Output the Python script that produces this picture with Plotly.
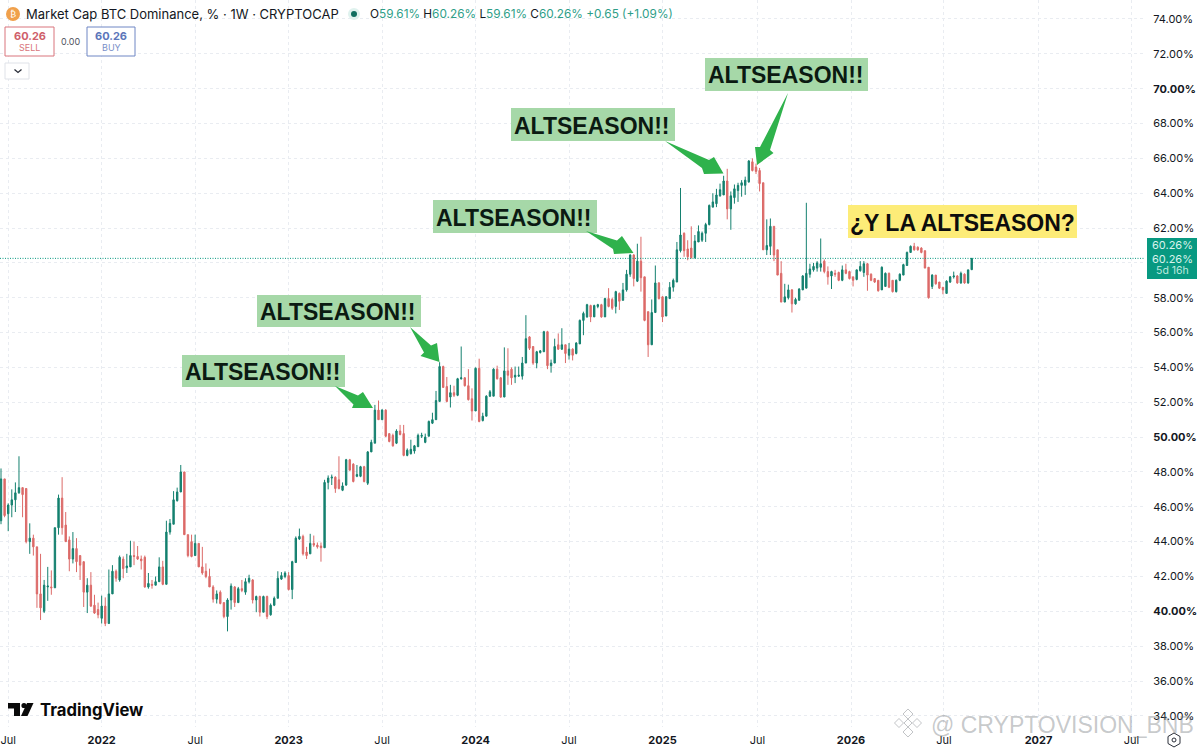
import pandas as pd
import plotly.graph_objects as go

FIRST_WEEK = "2021-06-21"

opens = [
45.2,47.6,45.6,46.1,46.4,46.8,47.1,47.05,44.0,44.2,
43.7,41.0,40.0,41.4,41.4,41.35,44.8,46.5,44.95,44.1,
43.0,43.6,43.2,42.85,41.1,41.5,40.35,40.1,39.6,40.3,
39.3,41.0,42.3,41.8,43.0,42.5,42.55,43.2,43.15,43.0,
43.1,41.4,41.55,41.5,41.7,42.55,41.55,44.55,45.0,46.35,
46.85,48.0,44.4,44.0,43.2,43.9,42.55,42.3,42.0,41.4,
40.7,41.1,40.5,39.7,40.65,41.4,40.5,41.3,41.1,41.7,
41.8,40.65,40.85,39.95,40.85,39.8,40.35,40.75,41.85,42.0,
42.05,41.25,42.8,44.15,44.3,43.4,43.3,43.9,43.8,43.75,
43.65,47.4,47.65,47.7,47.55,46.95,47.25,48.7,48.45,47.75,
47.75,48.3,47.35,49.15,49.65,51.55,51.0,51.55,50.2,50.1,
49.65,50.35,50.2,48.95,49.05,49.2,49.45,50.05,49.7,50.05,
50.8,51.0,52.05,54.05,52.9,52.3,52.55,52.4,53.35,53.4,
52.95,52.2,51.5,53.95,50.95,51.2,52.35,52.35,53.9,53.4,
52.3,53.8,53.9,53.45,53.5,53.5,54.25,55.75,55.2,54.25,
54.85,54.9,56.05,54.1,54.25,55.3,55.05,55.3,54.7,55.05,
54.8,55.35,56.7,56.9,57.55,56.9,57.5,57.6,56.9,57.95,
57.9,57.5,58.25,57.85,58.45,59.35,60.45,58.95,60.1,59.2,
57.2,55.3,57.15,58.85,58.05,56.95,57.95,58.6,58.9,60.7,
61.7,60.8,60.85,60.3,61.2,61.3,61.7,62.2,63.2,63.4,
63.85,63.9,64.7,63.1,63.75,64.15,64.45,64.45,64.65,65.8,
65.5,65.3,64.6,60.75,60.95,62.1,60.75,59.4,57.75,58.0,
58.45,57.65,57.85,58.45,58.55,59.35,59.6,59.7,59.75,60.1,
59.5,59.25,59.4,59.45,59.0,59.6,59.5,59.2,59.05,59.55,
59.45,59.95,59.35,59.1,59.0,58.45,58.65,59.4,59.0,58.35,
59.0,59.3,59.85,60.6,60.95,60.9,60.85,60.7,59.75,58.65,
59.3,58.9,58.6,58.25,58.9,59.2,59.25,58.85,59.35,58.85,
59.61]

highs = [
48.2,47.6,46.2,47.0,47.4,48.9,47.1,47.05,45.05,44.4,
43.7,43.3,41.8,42.55,42.35,44.8,46.7,47.7,45.7,44.3,
44.55,44.2,43.2,42.85,41.9,42.25,40.95,40.5,40.9,40.8,
42.4,42.65,42.4,43.2,43.15,43.3,44.05,44.0,43.75,43.2,
43.2,42.2,41.8,42.0,43.1,42.9,45.2,45.3,46.9,47.1,
48.4,48.0,44.4,44.4,44.4,43.9,43.7,42.75,42.45,41.5,
41.2,41.2,40.5,40.75,41.6,41.45,41.4,41.8,41.9,42.1,
41.85,40.9,40.9,40.9,40.9,40.45,40.85,42.3,42.25,42.3,
42.25,42.9,44.3,44.75,44.4,43.7,44.45,44.35,43.95,43.95,
47.55,47.8,47.85,47.75,48.9,47.4,48.75,48.75,48.5,48.4,
48.35,48.35,49.2,49.85,51.85,52.1,51.6,51.6,50.2,50.2,
50.45,50.7,50.7,49.35,49.85,49.55,50.2,50.25,50.2,50.95,
51.4,52.65,54.3,54.1,53.45,53.0,52.95,53.4,55.2,53.45,
53.9,52.8,54.0,54.5,51.4,52.4,52.7,53.95,54.1,53.45,
55.15,55.1,54.0,54.05,54.05,54.6,57.0,55.8,55.2,54.95,
55.0,56.1,56.1,54.45,55.65,55.95,56.25,55.3,55.4,55.1,
55.45,56.75,57.2,57.65,57.6,57.6,57.65,57.65,58.0,58.55,
58.0,58.4,58.3,58.85,59.6,60.5,60.5,61.1,61.5,59.2,
57.2,57.9,59.85,58.9,58.1,58.1,58.9,59.1,61.2,64.3,
61.75,61.3,62.1,61.6,62.15,61.8,62.3,63.35,64.0,64.25,
64.55,65.0,65.4,64.1,64.5,64.6,64.75,64.95,65.9,66.0,
65.7,65.45,64.6,62.5,62.55,62.1,60.75,60.1,58.8,58.75,
58.5,58.0,58.55,59.3,63.45,59.95,60.0,60.1,61.4,60.2,
59.8,59.55,59.6,59.5,59.85,59.95,59.55,59.2,59.6,60.1,
60.1,60.0,59.4,59.1,59.0,59.8,59.45,59.45,59.0,59.05,
59.4,59.95,60.65,61.0,61.15,60.95,60.9,60.7,59.75,59.35,
59.3,58.9,58.6,59.0,59.25,59.5,59.3,59.5,59.4,59.6,
60.26]

lows = [
45.0,45.4,44.6,45.4,45.7,46.75,45.4,43.9,43.3,43.2,
40.2,39.5,39.9,40.6,40.95,41.35,44.4,44.4,44.0,42.3,
42.75,42.25,41.8,40.25,39.9,40.25,39.85,39.6,39.3,39.15,
39.3,41.0,41.7,41.7,41.9,42.2,42.55,42.65,42.95,42.4,
41.35,41.3,41.3,41.5,41.7,41.5,41.55,44.4,45.0,46.3,
46.85,44.4,43.1,43.1,43.2,42.55,42.1,41.9,41.4,40.5,
40.45,40.4,39.6,38.85,40.1,40.25,40.5,41.1,40.95,41.6,
40.45,39.95,39.7,39.95,39.55,39.75,40.3,40.75,41.8,41.9,
41.2,40.7,42.8,44.1,43.2,43.0,43.3,43.7,43.6,42.85,
43.65,47.0,47.25,46.8,47.0,46.9,47.2,48.1,47.4,47.7,
47.7,47.4,47.25,49.15,49.65,51.0,51.0,50.0,49.7,49.45,
49.6,50.1,48.9,48.9,49.0,49.05,49.45,49.95,49.65,50.05,
50.75,51.0,52.05,52.85,52.0,51.7,52.3,52.35,53.3,52.9,
52.1,50.95,51.5,50.85,50.9,51.2,52.3,52.35,53.3,52.25,
52.3,53.0,53.0,53.1,53.45,53.3,54.25,55.0,54.15,53.95,
54.8,54.9,53.9,53.7,54.25,55.0,55.0,54.25,54.45,54.4,
54.75,55.35,55.85,56.85,56.6,56.9,57.4,56.85,56.9,57.45,
57.3,57.1,57.3,57.85,58.35,59.2,58.65,58.9,58.35,56.65,
54.6,55.3,57.15,57.9,56.6,56.95,57.95,58.35,58.9,60.6,
60.35,60.15,60.25,60.25,61.2,61.2,61.2,62.15,63.2,63.2,
63.8,63.9,62.5,61.9,63.4,63.5,63.8,63.9,64.6,65.25,
65.1,64.1,60.75,60.45,60.45,60.1,59.3,57.75,57.75,57.9,
57.15,57.6,57.85,58.45,58.55,59.15,59.5,59.5,59.5,59.4,
58.75,58.5,59.2,58.95,58.95,59.35,59.05,58.65,59.0,59.5,
59.2,58.4,58.95,58.85,58.35,58.45,58.65,58.55,58.3,58.3,
58.95,59.3,59.85,60.6,60.7,60.7,60.55,59.7,57.95,58.5,
58.75,58.5,58.2,58.25,58.85,59.1,58.8,58.8,58.8,58.8,
59.61]

closes = [
47.6,45.5,46.1,46.4,46.8,47.1,46.7,44.0,44.2,43.7,
41.0,40.2,41.5,41.45,41.35,44.8,46.5,44.8,44.0,43.0,
43.6,42.85,42.65,41.1,41.5,40.3,39.9,39.8,40.3,39.3,
41.0,42.3,41.9,43.1,42.45,42.6,43.2,43.15,43.0,42.9,
41.4,41.6,41.5,41.7,42.55,41.55,44.55,45.05,46.4,46.85,
48.0,44.4,43.2,43.15,43.9,42.55,42.2,42.0,41.4,40.7,
41.0,40.45,39.7,40.65,41.45,40.5,41.3,41.2,41.7,41.9,
40.65,40.85,39.95,40.85,39.7,40.35,40.75,41.9,42.05,42.2,
41.25,42.85,44.2,44.3,43.3,43.2,43.9,43.8,43.7,43.65,
47.4,47.65,47.7,47.05,47.05,47.2,48.7,48.1,47.45,47.85,
48.3,47.45,49.15,49.7,51.55,51.0,51.55,50.05,49.75,49.5,
50.35,50.15,48.95,49.25,49.3,49.5,50.1,50.1,50.0,50.9,
51.0,52.1,54.05,52.85,52.05,52.55,52.4,53.35,53.4,52.95,
52.15,51.5,53.95,50.9,51.2,52.35,52.6,53.9,53.35,52.3,
53.8,53.55,53.4,53.55,53.55,54.25,55.65,55.1,54.25,54.9,
54.95,56.05,54.1,54.25,55.2,55.05,55.3,54.8,55.05,54.7,
55.4,56.7,57.1,57.6,56.9,57.55,57.6,56.9,57.95,57.5,
57.4,58.35,57.8,58.45,59.35,60.45,59.1,60.1,59.15,56.7,
55.3,57.15,58.85,57.95,56.9,58.05,58.6,59.0,60.75,61.6,
60.7,60.35,60.3,61.25,61.8,61.7,62.2,63.3,63.5,63.9,
64.2,64.7,63.1,63.85,64.25,64.45,64.6,64.75,65.85,65.3,
65.25,64.55,60.75,61.0,62.1,60.45,59.3,57.75,58.05,58.45,
57.65,57.9,58.5,59.25,59.4,59.65,59.8,60.0,59.95,59.5,
59.2,59.5,59.35,59.0,59.6,59.4,59.1,59.0,59.6,59.8,
59.95,59.3,59.0,58.9,58.4,59.75,59.4,58.6,58.35,59.0,
59.35,59.9,60.6,60.95,60.75,60.75,60.6,59.7,58.0,59.3,
58.8,58.55,58.45,58.95,59.2,59.25,58.85,59.4,58.85,59.6,
60.26]

price_ticks = [34,36,38,40,42,44,46,48,50,52,54,56,58,60,62,64,66,68,70,72,74]
bold_prices = [40,50,70]
hidden_prices = [60]  # covered by the last-price tag
time_ticks = ["2021-07-05","2022-01-03","2022-07-04","2023-01-02","2023-07-03","2024-01-01",
              "2024-07-01","2024-12-30","2025-07-03","2026-01-01","2026-07-01","2027-01-01","2027-07-01"]
time_labels = ["Jul","<b>2022</b>","Jul","<b>2023</b>","Jul","<b>2024</b>","Jul","<b>2025</b>",
               "Jul","<b>2026</b>","Jul","<b>2027</b>","Jul"]
LAST = 60.26

GREEN = "#14806f"
RED = "#dc6a68"
TEAL = "#089981"
TXT = "#131722"
FONT = "Inter, Liberation Sans, sans-serif"
W, H = 1145.0, 727.0


def X(v):
    return v / W


def Y(v):
    return 1 - v / H


def path(points, close=True):
    s = "M" + " L".join(f"{X(a):.5f},{Y(b):.5f}" for a, b in points)
    return s + (" Z" if close else "")


dates = pd.date_range(FIRST_WEEK, periods=len(opens), freq="7D")
start = pd.Timestamp(FIRST_WEEK)
week = pd.Timedelta(days=7)

fig = go.Figure(go.Candlestick(
    x=dates, open=opens, high=highs, low=lows, close=closes,
    increasing=dict(line=dict(color=GREEN, width=1), fillcolor=GREEN),
    decreasing=dict(line=dict(color=RED, width=1), fillcolor=RED),
    whiskerwidth=0, hoverinfo="skip", showlegend=False,
))

shapes, notes = [], []


def rect(x0, y0, x1, y1, fill, line=None, lw=1):
    shapes.append(dict(type="rect", xref="paper", yref="paper",
                       x0=X(x0), x1=X(x1), y0=Y(y1), y1=Y(y0),
                       fillcolor=fill, line=dict(color=line or fill, width=lw if line else 0)))


def poly(points, fill, line=None, lw=0, close=True):
    shapes.append(dict(type="path", xref="paper", yref="paper", path=path(points, close),
                       fillcolor=fill, line=dict(color=line or fill, width=lw)))


def circle(cx, cy, r, fill, line=None, lw=0):
    shapes.append(dict(type="circle", xref="paper", yref="paper",
                       x0=X(cx - r), x1=X(cx + r), y0=Y(cy + r), y1=Y(cy - r),
                       fillcolor=fill, line=dict(color=line or fill, width=lw)))


def text(x, y, s, size, color, anchor="left", family=FONT):
    notes.append(dict(xref="paper", yref="paper", x=X(x), y=Y(y), text=s, showarrow=False,
                      xanchor=anchor, yanchor="middle", font=dict(size=size, color=color, family=family)))


shapes.append(dict(type="line", xref="paper", x0=0, x1=1, y0=LAST, y1=LAST,
                   line=dict(color=TEAL, width=1, dash="1px,1.5px")))

# callout boxes
BOX_GREEN = "#a6d8a8"
BOX_FONT = "Liberation Sans, Arial, sans-serif"
callouts = [(182, 355, 345, 387), (257, 295, 421, 327), (433, 200, 597, 233),
            (511, 108, 675, 141), (705, 58, 868, 91)]
for x0, y0, x1, y1 in callouts:
    rect(x0, y0, x1, y1, BOX_GREEN)
    text((x0 + x1) / 2 - 1.5, (y0 + y1) / 2 + 1, "<b>ALTSEASON!!</b>", 23, "#0b1a12", "center", BOX_FONT)
rect(848, 205, 1077, 238, "#fdec78")
text(962, 222.5, "<b>¿Y LA ALTSEASON?</b>", 23, "#0d0d0d", "center", BOX_FONT)

# arrows
ARROW = "#2fb24c"
arrows = [
    [(335, 386), (358, 395.5), (363, 392), (373, 408), (352, 408), (353.5, 404.5)],
    [(410, 327), (431, 345.5), (437, 343), (439.5, 362), (420.5, 356), (424, 352.5)],
    [(586, 231), (617, 240.5), (622, 236), (633.5, 253), (614, 254), (613, 249)],
    [(665, 141), (709, 160), (714, 157), (723.5, 173.5), (704, 174), (702, 168)],
    [(788, 93), (770, 150), (773.5, 153), (757, 165), (755, 147), (760, 147)],
]
for a in arrows:
    poly(a, ARROW)

# header
circle(13, 14, 7, "#f0a04b")
text(13, 14.5, "₿", 9, "white", "center", "DejaVu Sans")
text(24, 14, "Market Cap BTC Dominance, % · 1W · CRYPTOCAP", 13, TXT)
circle(354, 14, 6, "#dff2ee")
circle(354, 14, 3, "#0f6e5f")
val = "#2e9e88"
ohlc = (f'O<span style="color:{val}">59.61%</span> H<span style="color:{val}">60.26%</span> '
        f'L<span style="color:{val}">59.61%</span> C<span style="color:{val}">60.26%</span> '
        f'<span style="color:{val}">+0.65 (+1.09%)</span>')
text(368, 14.5, ohlc, 11.8, TXT)

# trade buttons
shapes.append(dict(type="rect", xref="paper", yref="paper", x0=X(5), x1=X(54), y0=Y(56), y1=Y(27),
                   fillcolor="white", line=dict(color="#d9757c", width=1)))
shapes.append(dict(type="rect", xref="paper", yref="paper", x0=X(87), x1=X(135), y0=Y(56), y1=Y(27),
                   fillcolor="white", line=dict(color="#6f86c4", width=1)))
shapes.append(dict(type="rect", xref="paper", yref="paper", x0=X(5), x1=X(29), y0=Y(79), y1=Y(63),
                   fillcolor="white", line=dict(color="#dfe2e8", width=1)))
poly([(14.5, 69.5), (18, 72.5), (21.5, 69.5)], "rgba(0,0,0,0)", "#2a2e39", 1.3, close=False)
text(29.5, 35.5, "<b>60.26</b>", 11, "#cf5f6b", "center")
text(29.5, 47.5, "SELL", 9, "#d9757c", "center")
text(70, 42, "0.00", 9, "#50535e", "center")
text(111, 35.5, "<b>60.26</b>", 11, "#5c76ba", "center")
text(111, 47.5, "BUY", 9, "#7a90c8", "center")

# last price tag
rect(1147, 238, 1197, 279, TEAL)
text(1172, 245, "60.26%", 11, "#d8f3ec", "center")
text(1172, 259, "60.26%", 11, "#d8f3ec", "center")
text(1172, 271, "5d 16h", 10.5, "#bfe9df", "center")

# TradingView logo
poly([(8, 703), (20, 703), (20, 716), (14, 716), (14, 708.5), (8, 708.5)], "#0a0a0a")
circle(24, 705.5, 2.6, "#0a0a0a")
poly([(27, 703), (33.5, 703), (27.5, 716), (21, 716)], "#0a0a0a")
text(38, 710, "<b>TradingView</b>", 16.7, "#0a0a0a", "left")

# settings icon
poly([(1174, 733), (1180, 736.5), (1180, 743.5), (1174, 747), (1168, 743.5), (1168, 736.5)],
     "rgba(0,0,0,0)", "#2a2e39", 1)
circle(1174, 740, 2, "rgba(0,0,0,0)", "#2a2e39", 1)

# watermark
WM = "rgba(120,125,130,0.45)"
for cx, cy, r in [(908, 714, 5), (908, 732, 5), (899, 723, 4.5), (917, 723, 4.5), (908, 723, 4)]:
    poly([(cx, cy - r), (cx + r, cy), (cx, cy + r), (cx - r, cy)], "rgba(0,0,0,0)", WM, 1)
text(929, 725, "@ CRYPTOVISION_BNB", 23, "rgba(120,125,130,0.42)", "left", "Liberation Sans, sans-serif")

range_start = start - week * 0.278
range_end = start + week * 318.2
tick_text = []
for p in price_ticks:
    if p in hidden_prices:
        tick_text.append("")
    elif p in bold_prices:
        tick_text.append(f"<b>{p:.2f}%</b>")
    else:
        tick_text.append(f"{p:.2f}%")

fig.update_layout(
    width=1200, height=750, autosize=False,
    margin=dict(l=0, r=55, t=0, b=23),
    paper_bgcolor="white", plot_bgcolor="white",
    font=dict(family=FONT, color=TXT, size=11),
    boxgap=0.45, hovermode=False, showlegend=False,
    shapes=shapes, annotations=notes,
    xaxis=dict(type="date", range=[range_start, range_end], rangeslider=dict(visible=False),
               tickmode="array", tickvals=time_ticks, ticktext=time_labels, tickangle=0,
               showgrid=True, gridcolor="#e9ecf1", griddash="dot", gridwidth=1,
               zeroline=False, showline=False, ticks="outside", ticklen=3, tickcolor="white",
               tickfont=dict(size=11, color=TXT)),
    yaxis=dict(side="right", range=[33.36, 75.09], tickmode="array", tickvals=price_ticks,
               ticktext=tick_text, showgrid=True, gridcolor="#e9ecf1", griddash="dot", gridwidth=1,
               zeroline=False, showline=False, ticks="outside", ticklen=5, tickcolor="white",
               tickfont=dict(size=11, color=TXT)),
)

fig.write_html("out.html", config={"displayModeBar": False},
               post_script="document.body.style.margin='0';document.documentElement.style.overflow='hidden';")
